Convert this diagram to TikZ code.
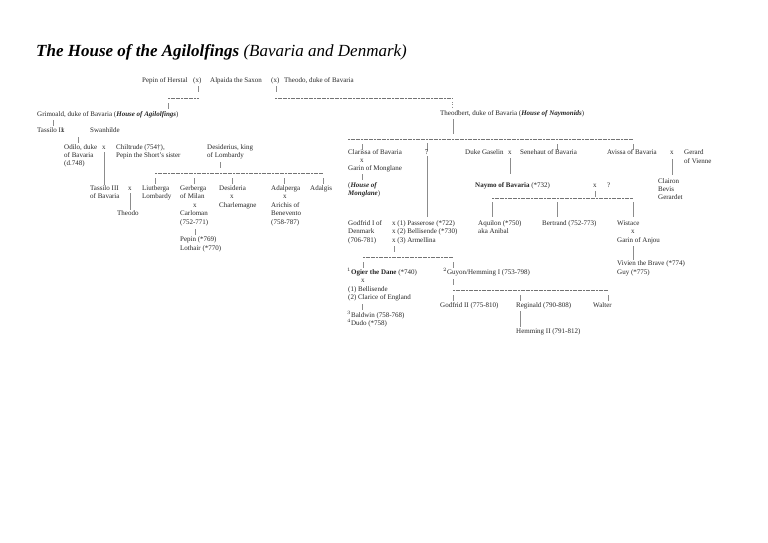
\documentclass[tikz,border=0pt]{standalone}
\usepackage{fontspec}
\setmainfont{Liberation Serif}
\begin{document}
\begin{tikzpicture}[x=1pt,y=-1pt,
  lbl/.style={anchor=west,inner sep=0pt,text height=5pt,text depth=1.5pt,font=\fontsize{7}{8.5}\selectfont,text=black!85},
  bar/.style={draw=black!45,line width=0.35pt},
  dsh/.style={draw=black!55,line width=0.35pt,dash pattern=on 2pt off 0.6pt}]
\newcommand\T[4]{\node[lbl] (#1) at (#2,#3) {#4};}
\newcommand\B[2]{\draw[bar] (#1,{#2-3}) -- (#1,{#2+3});}
\newcommand\V[3]{\draw[bar] (#1,#2) -- (#1,#3);}
\newcommand\D[3]{\draw[dsh] (#1,#3) -- (#2,#3);}
\newcommand\bi[1]{\textbf{\textit{#1}}}
\useasboundingbox[fill=white] (0,0) rectangle (768,543);
\node[anchor=west,inner sep=0pt] (title) at (36,52) {\fontsize{17}{20}\selectfont\bfseries\itshape The House of the Agilolfings \mdseries(Bavaria and Denmark)};
% top row
\T{pepin}{142}{81}{Pepin of Herstal}
\T{x1}{193}{81}{(x)}
\T{alpaida}{210}{81}{Alpaida the Saxon}
\T{x2}{271}{81}{(x)}
\T{theodo}{284}{81}{Theodo, duke of Bavaria}
\B{198}{89}\B{276}{89}
\D{168}{199}{98}\D{275}{452}{98}
\B{168}{106}
\draw[bar,dotted] (452,102) -- (452,108);
% left
\T{grim}{37}{115}{Grimoald, duke of Bavaria (\bi{House of Agilolfings})}
\B{53}{123}
\T{tas2}{37}{131}{Tassilo II}\T{x3}{61}{131}{x}\T{swan}{90}{131}{Swanhilde}
\B{78}{140}
\T{odilo}{64}{148}{Odilo, duke}\T{x4}{102}{148}{x}
\T{odilo2}{64}{156}{of Bavaria}\T{odilo3}{64}{164}{(d.748)}
\V{104}{152}{185}
\T{chil}{116}{148}{Chiltrude (754†),}\T{chil2}{116}{156}{Pepin the Short's sister}
\T{desi}{207}{148}{Desiderius, king}\T{desi2}{207}{156}{of Lombardy}
\B{220}{165}
\D{155}{323}{173}
\B{155}{181}\B{194}{181}\B{232}{181}\B{284}{181}\B{323}{181}
\T{tas3}{90}{189}{Tassilo III}\T{x5}{128}{189}{x}\T{liut}{142}{189}{Liutberga}
\T{gerb}{180}{189}{Gerberga}\T{desa}{219}{189}{Desideria}\T{adalp}{271}{189}{Adalperga}\T{adalg}{310}{189}{Adalgis}
\T{tas3b}{90}{197}{of Bavaria}\T{liut2}{142}{197}{Lombardy}\T{gerb2}{180}{197}{of Milan}
\T{x6}{230}{197}{x}\T{x7}{283}{197}{x}
\V{130}{193}{210}
\T{x8}{193}{206}{x}\T{charl}{219}{206}{Charlemagne}\T{arich}{271}{206}{Arichis of}
\T{theodo2}{117}{214}{Theodo}\T{carl}{180}{214}{Carloman}\T{arich2}{271}{214}{Benevento}
\T{carl2}{180}{223}{(752-771)}\T{arich3}{271}{223}{(758-787)}
\B{195}{232}
\T{pepin2}{180}{240}{Pepin (*769)}\T{loth}{180}{249}{Lothair (*770)}
% right
\T{theodb}{440}{114}{Theodbert, duke of Bavaria (\bi{House of Naymonids})}
\V{453}{119}{134}
\D{348}{633}{139}
\B{362}{147}\B{557}{147}\B{633}{147}
\V{427}{143}{217}
\T{clar}{348}{153}{Clarissa of Bavaria}\T{q1}{425}{153}{?}
\node[lbl,fill=white,inner xsep=1pt] (q1b) at (424,153) {?};
\T{gase}{465}{153}{Duke Gaselin}\T{x9}{508}{153}{x}\T{sene}{520}{153}{Senehaut of Bavaria}
\T{aviss}{607}{153}{Avissa of Bavaria}\T{x10}{670}{153}{x}\T{gerard}{684}{153}{Gerard}
\T{gerard2}{684}{162}{of Vienne}
\T{x11}{360}{161}{x}
\V{510}{158}{174}\V{672}{159}{175}
\T{garin}{348}{169}{Garin of Monglane}
\B{362}{177}
\T{clai}{658}{182}{Clairon}\T{bevis}{658}{190}{Bevis}\T{gerardet}{658}{198}{Gerardet}
\T{monh}{348}{186}{(\bi{House of}}\T{monh2}{348}{194}{\bi{Monglane})}
\T{naymo}{475}{186}{\textbf{Naymo of Bavaria} (*732)}\T{x12}{593}{186}{x}\T{q2}{607}{186}{?}
\B{595}{194}
\D{492}{633}{198}
\V{492}{202}{217}\V{557}{202}{217}\V{633}{202}{217}
\T{godf}{348}{224}{Godfrid I of}\T{godf2}{348}{232}{Denmark}\T{godf3}{348}{241}{(706-781)}
\T{pass}{392}{224}{x (1) Passerose (*722)}\T{bell}{392}{232}{x (2) Bellisende (*730)}\T{arm}{392}{241}{x (3) Armellina}
\T{aqui}{478}{224}{Aquilon (*750)}\T{aqui2}{478}{232}{aka Anibal}
\T{bert}{542}{224}{Bertrand (752-773)}
\T{wist}{617}{224}{Wistace}\T{x13}{631}{232}{x}\T{garin2}{617}{241}{Garin of Anjou}
\B{394}{249}\V{633}{246}{260}
\D{363}{453}{257}
\B{363}{265}\B{453}{265}
\T{vivien}{617}{264}{Vivien the Brave (*774)}\T{guy}{617}{273}{Guy (*775)}
\T{ogier}{347}{273}{$^{\scriptscriptstyle 1}$\textbf{Ogier the Dane} (*740)}
\T{guyon}{443}{273}{$^{\scriptscriptstyle 2}$Guyon/Hemming I (753-798)}
\T{x14}{361}{281}{x}\B{453}{282}
\T{bell2}{348}{290}{(1) Bellisende}\T{clarice}{348}{298}{(2) Clarice of England}
\D{453}{608}{290}
\B{453}{298}\B{520}{298}\B{608}{298}
\B{362}{307}
\T{godf4}{440}{306}{Godfrid II (775-810)}\T{regi}{516}{306}{Reginald (790-808)}\T{walt}{593}{306}{Walter}
\T{bald}{347}{316}{$^{\scriptscriptstyle 3}$Baldwin (758-768)}\T{dudo}{347}{324}{$^{\scriptscriptstyle 4}$Dudo (*758)}
\V{520}{311}{327}
\T{hemm}{516}{332}{Hemming II (791-812)}
\end{tikzpicture}
\end{document}
